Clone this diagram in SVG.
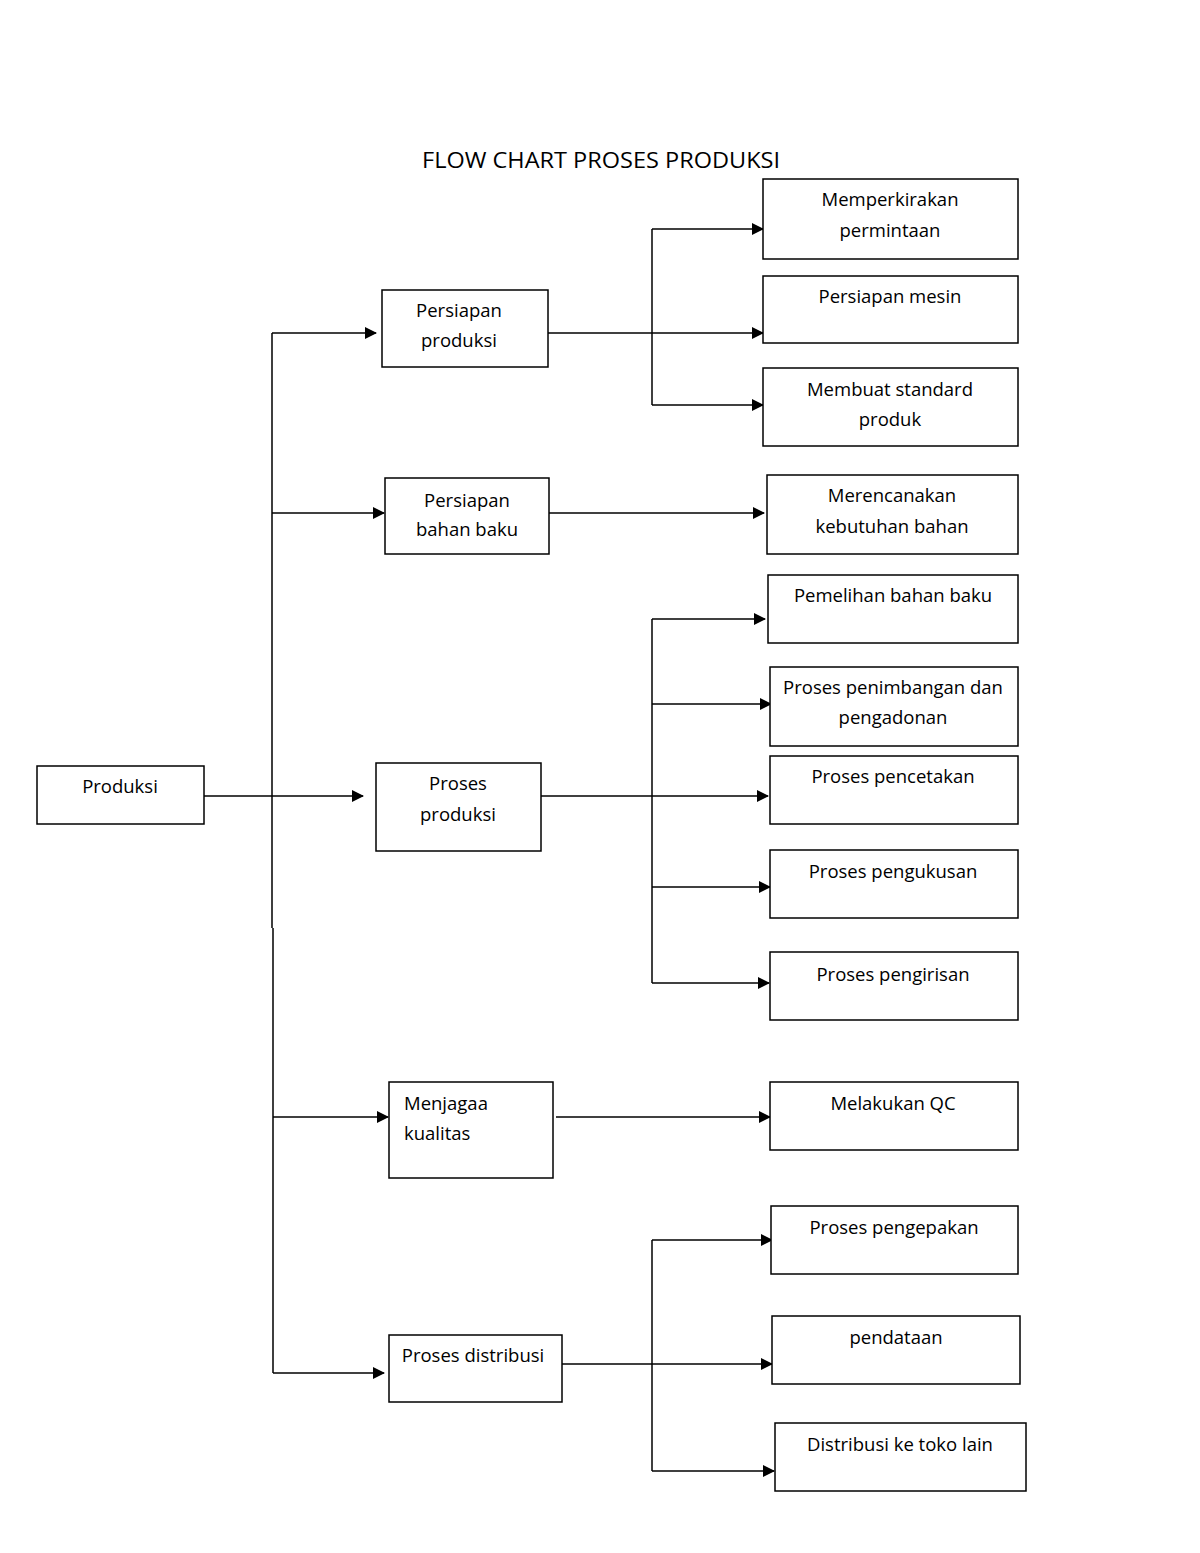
<svg xmlns="http://www.w3.org/2000/svg" width="1200" height="1553" viewBox="0 0 1200 1553">
<defs>
<marker id="ah" markerWidth="12" markerHeight="12" refX="11" refY="6" orient="auto" markerUnits="userSpaceOnUse">
<path d="M0,0 L12,6 L0,12 Z" fill="#000"/>
</marker>
<style>
.box{fill:#fff;stroke:#000;stroke-width:1.5}
.t{font-family:"Open Sans","Liberation Sans",sans-serif;font-size:18.5px;fill:#000;text-anchor:middle}
.l{text-anchor:start}
.ttl{font-family:"Open Sans","Liberation Sans",sans-serif;font-size:22px;fill:#000;text-anchor:middle}
.c{fill:none;stroke:#000;stroke-width:1.5}
.a{marker-end:url(#ah)}
</style>
</defs>
<rect width="1200" height="1553" fill="#fff"/>
<text class="ttl" x="601" y="168" textLength="358" lengthAdjust="spacingAndGlyphs">FLOW CHART PROSES PRODUKSI</text>
<g id="connectors">
<path class="c" d="M272,333 V928 M273,928 V1373"/>
<path class="c a" d="M272,333 H376"/>
<path class="c a" d="M272,513 H384"/>
<path class="c a" d="M204,796 H363"/>
<path class="c a" d="M273,1117 H388"/>
<path class="c a" d="M273,1373 H384"/>
<path class="c a" d="M548,333 H763"/>
<path class="c" d="M652,229 V405"/>
<path class="c a" d="M652,229 H763"/>
<path class="c a" d="M652,405 H763"/>
<path class="c a" d="M549,513 H764"/>
<path class="c a" d="M541,796 H768"/>
<path class="c" d="M652,619 V983"/>
<path class="c a" d="M652,619 H765"/>
<path class="c a" d="M652,704 H771"/>
<path class="c a" d="M652,887 H770"/>
<path class="c a" d="M652,983 H769"/>
<path class="c a" d="M556,1117 H770"/>
<path class="c a" d="M562,1364 H772"/>
<path class="c" d="M652,1240 V1471"/>
<path class="c a" d="M652,1240 H772"/>
<path class="c a" d="M652,1471 H774"/>
</g>
<g id="n-produksi"><rect class="box" x="37" y="766" width="167" height="58"/><text class="t" x="120" y="793">Produksi</text></g>
<g id="n-persiapan-produksi"><rect class="box" x="382" y="290" width="166" height="77"/><text class="t" x="459" y="317">Persiapan</text><text class="t" x="459" y="347">produksi</text></g>
<g id="n-persiapan-bahan"><rect class="box" x="385" y="478" width="164" height="76"/><text class="t" x="467" y="507">Persiapan</text><text class="t" x="467" y="536">bahan baku</text></g>
<g id="n-proses-produksi"><rect class="box" x="376" y="763" width="165" height="88"/><text class="t" x="458" y="790">Proses</text><text class="t" x="458" y="821">produksi</text></g>
<g id="n-menjagaa"><rect class="box" x="389" y="1082" width="164" height="96"/><text class="t l" x="404" y="1110">Menjagaa</text><text class="t l" x="404" y="1140">kualitas</text></g>
<g id="n-distribusi"><rect class="box" x="389" y="1335" width="173" height="67"/><text class="t" x="473" y="1362">Proses distribusi</text></g>
<g id="n-memperkirakan"><rect class="box" x="763" y="179" width="255" height="80"/><text class="t" x="890" y="206">Memperkirakan</text><text class="t" x="890" y="237">permintaan</text></g>
<g id="n-mesin"><rect class="box" x="763" y="276" width="255" height="67"/><text class="t" x="890" y="303">Persiapan mesin</text></g>
<g id="n-standard"><rect class="box" x="763" y="368" width="255" height="78"/><text class="t" x="890" y="396">Membuat standard</text><text class="t" x="890" y="426">produk</text></g>
<g id="n-merencanakan"><rect class="box" x="767" y="475" width="251" height="79"/><text class="t" x="892" y="502">Merencanakan</text><text class="t" x="892" y="533">kebutuhan bahan</text></g>
<g id="n-pemelihan"><rect class="box" x="768" y="575" width="250" height="68"/><text class="t" x="893" y="602">Pemelihan bahan baku</text></g>
<g id="n-penimbangan"><rect class="box" x="770" y="667" width="248" height="79"/><text class="t" x="893" y="694">Proses penimbangan dan</text><text class="t" x="893" y="724">pengadonan</text></g>
<g id="n-pencetakan"><rect class="box" x="770" y="756" width="248" height="68"/><text class="t" x="893" y="783">Proses pencetakan</text></g>
<g id="n-pengukusan"><rect class="box" x="770" y="850" width="248" height="68"/><text class="t" x="893" y="878">Proses pengukusan</text></g>
<g id="n-pengirisan"><rect class="box" x="770" y="952" width="248" height="68"/><text class="t" x="893" y="981">Proses pengirisan</text></g>
<g id="n-qc"><rect class="box" x="770" y="1082" width="248" height="68"/><text class="t" x="893" y="1110">Melakukan QC</text></g>
<g id="n-pengepakan"><rect class="box" x="771" y="1206" width="247" height="68"/><text class="t" x="894" y="1234">Proses pengepakan</text></g>
<g id="n-pendataan"><rect class="box" x="772" y="1316" width="248" height="68"/><text class="t" x="896" y="1344">pendataan</text></g>
<g id="n-toko"><rect class="box" x="775" y="1423" width="251" height="68"/><text class="t" x="900" y="1451">Distribusi ke toko lain</text></g>
</svg>
